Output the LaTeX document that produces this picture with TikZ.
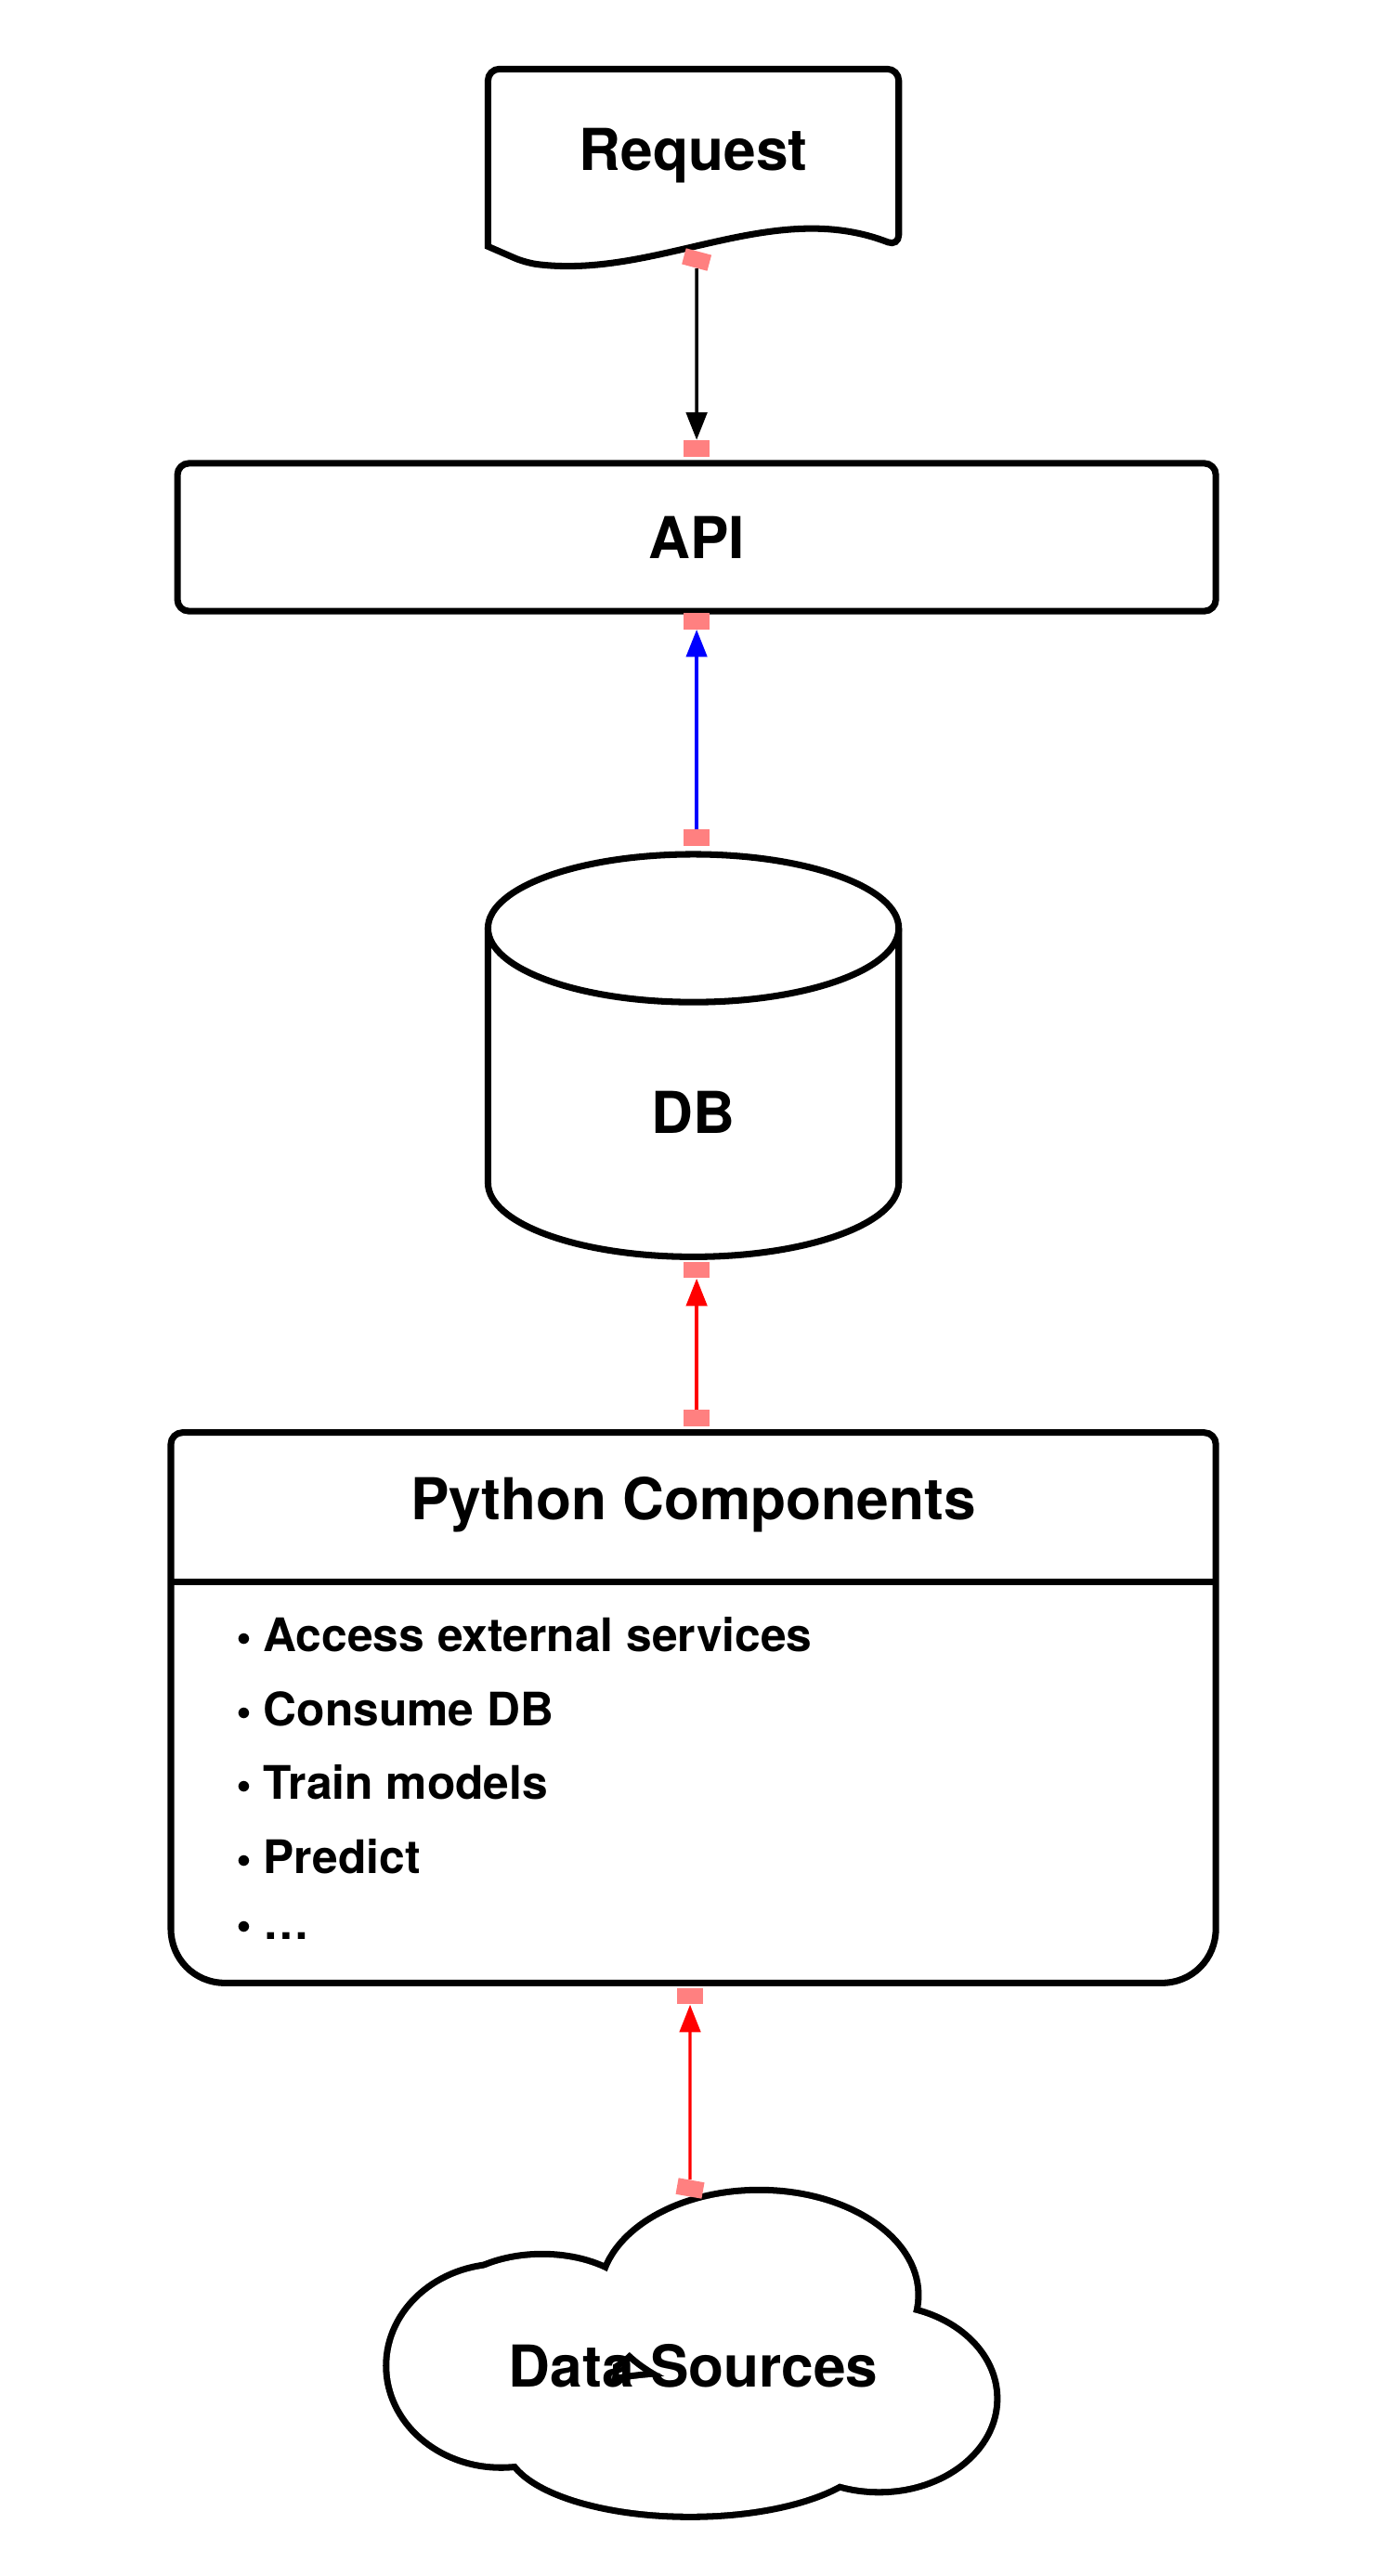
\documentclass[tikz,border=0pt]{standalone}
\usepackage{fontspec}
\setmainfont{TeX Gyre Heros}
\usetikzlibrary{positioning,arrows.meta}
\tikzset{
  box/.style={draw, line width=3.4pt, rounded corners=6pt},
  lbl/.style={font=\bfseries\fontsize{30}{34}\selectfont},
  item/.style={font=\bfseries\fontsize{24}{28}\selectfont, anchor=west},
  pin/.style={fill=red!50, minimum width=0.48cm, minimum height=0.3cm, inner sep=0pt},
  link/.style={line width=1.6pt, -{Triangle[length=0.5cm,width=0.38cm]}}
}
\begin{document}
\begin{tikzpicture}[x=0.03cm,y=-0.03cm]
\useasboundingbox (0,0) rectangle (848,1568);
% request
\draw[box] (297,150) -- (297,42) -- (547,42) -- (547,150)
  .. controls (470,120) and (400,170) .. (320,160) [sharp corners] -- cycle;
\node[lbl] (req) at (422,95) {Request};
% api
\draw[box] (108,282) rectangle (740,372);
\node[lbl] (api) at (424,327) {API};
% db
\draw[line width=3.4pt] (297,565) -- (297,720) arc[start angle=180, end angle=360, x radius=125, y radius=-45]
  -- (547,565);
\draw[line width=3.4pt] (422,565) ellipse[x radius=125, y radius=45];
\node[lbl] (db) at (422,677) {DB};
% python
\draw[box] (104,1000) -- (104,1167) .. controls (104,1192) and (118,1207) .. (144,1207) -- (700,1207)
  .. controls (726,1207) and (740,1192) .. (740,1167) -- (740,872) -- (104,872) -- cycle;
\draw[line width=3.4pt] (104,963) -- (740,963);
\node[lbl] (py) at (422,916) {Python Components};
\foreach \t [count=\i] in {Access external services, Consume DB, Train models, Predict, \dots}
  \node[item] at (140,950+45*\i) {\raisebox{0.12em}{\Large$\bullet$}\ \t};
% cloud
\foreach \c/\a/\b in {{(305,1440)}/68/60, {(462,1397)}/95/62, {(535,1460)}/70/55, {(420,1488)}/110/42, {(330,1412)}/62/38}
  \draw[line width=6.8pt] \c ellipse[x radius=\a, y radius=\b];
\foreach \c/\a/\b in {{(305,1440)}/68/60, {(462,1397)}/95/62, {(535,1460)}/70/55, {(420,1488)}/110/42, {(330,1412)}/62/38}
  \fill[white] \c ellipse[x radius=\a, y radius=\b];
\node[lbl] (src) at (422,1440) {Data Sources};
% pins
\node[pin, rotate=-15] (p1) at (424,158) {};
\node[pin] (p2) at (424,273) {};
\node[pin] (p3) at (424,378) {};
\node[pin] (p4) at (424,510) {};
\node[pin] (p5) at (424,773) {};
\node[pin] (p6) at (424,863) {};
\node[pin] (p7) at (420,1215) {};
\node[pin, rotate=-10] (p8) at (420,1332) {};
% links
\draw[link] (p1) -- (p2.north);
\draw[link, blue] (p4) -- (p3.south);
\draw[link, red] (p6) -- (p5.south);
\draw[link, red] (p8) -- (p7.south);
\end{tikzpicture}
\end{document}
